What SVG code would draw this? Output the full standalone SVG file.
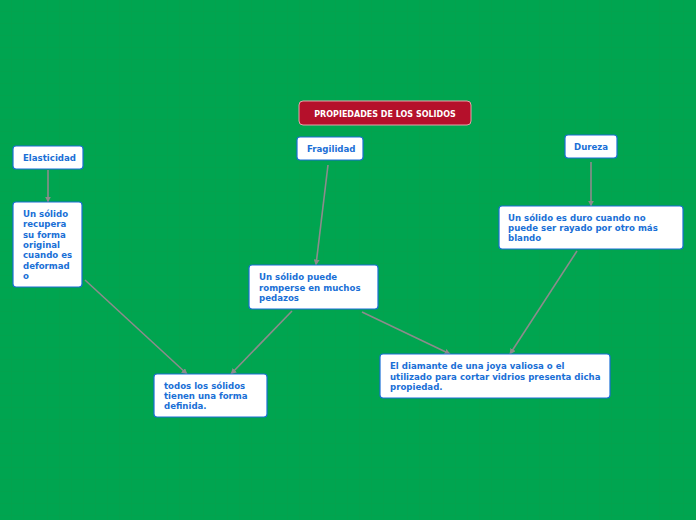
<svg xmlns="http://www.w3.org/2000/svg" width="696" height="520" viewBox="0 0 696 520">
<defs>
<style>
.n{fill:#fff;stroke:#1a6fd6;stroke-width:1.2}
.t{font-family:"DejaVu Sans",Verdana,sans-serif;font-weight:bold;font-size:8.6px;fill:#1a6fd6}
.c{stroke:#8c8c8c;stroke-width:1.6;fill:none;marker-end:url(#a)}
</style>
<marker id="a" viewBox="0 0 10 10" refX="9" refY="5" markerWidth="6" markerHeight="6" markerUnits="userSpaceOnUse" orient="auto"><path d="M0,0L10,5L0,10z" fill="#8c8c8c"/></marker>
<pattern id="g" width="12" height="12" patternUnits="userSpaceOnUse"><path d="M12,0V12H0" fill="none" stroke="#0a9c48" stroke-width="0.6"/></pattern>
</defs>
<rect width="696" height="520" fill="#00a550"/>
<rect width="696" height="520" fill="url(#g)"/>
<g id="connectors">
<line class="c" x1="48" y1="170" x2="48" y2="202"/>
<line class="c" x1="328" y1="165" x2="316" y2="265"/>
<line class="c" x1="591" y1="162" x2="591" y2="206"/>
<line class="c" x1="85" y1="280" x2="187" y2="374"/>
<line class="c" x1="292" y1="311" x2="231" y2="374"/>
<line class="c" x1="362" y1="312" x2="450" y2="354"/>
<line class="c" x1="577" y1="251" x2="510" y2="354"/>
</g>
<g id="title"><rect x="299" y="101" width="172" height="24" rx="4" fill="#b5102b" stroke="#e8a0aa" stroke-width="1"/><text x="385" y="117" text-anchor="middle" font-family="DejaVu Sans,sans-serif" font-weight="bold" font-size="8px" fill="#fff">PROPIEDADES DE LOS SOLIDOS</text></g>
<g id="elasticidad"><rect class="n" x="13" y="146" width="70" height="23" rx="3"/><text class="t" x="23" y="161">Elasticidad</text></g>
<g id="fragilidad"><rect class="n" x="297" y="137" width="66" height="23" rx="3"/><text class="t" x="307" y="152">Fragilidad</text></g>
<g id="dureza"><rect class="n" x="565" y="135" width="52" height="23" rx="3"/><text class="t" x="574" y="150">Dureza</text></g>
<g id="elastic-def"><rect class="n" x="13" y="202" width="69" height="85" rx="3"/><text class="t"><tspan x="23" y="217">Un sólido</tspan><tspan x="23" y="227.3">recupera</tspan><tspan x="23" y="237.6">su forma</tspan><tspan x="23" y="247.9">original</tspan><tspan x="23" y="258.2">cuando es</tspan><tspan x="23" y="268.5">deformad</tspan><tspan x="23" y="278.8">o</tspan></text></g>
<g id="frag-def"><rect class="n" x="249" y="265" width="129" height="44" rx="3"/><text class="t"><tspan x="259" y="280">Un sólido puede</tspan><tspan x="259" y="291">romperse en muchos</tspan><tspan x="259" y="301">pedazos</tspan></text></g>
<g id="dureza-def"><rect class="n" x="499" y="206" width="184" height="43" rx="3"/><text class="t"><tspan x="508" y="221">Un sólido es duro cuando no</tspan><tspan x="508" y="231">puede ser rayado por otro más</tspan><tspan x="508" y="241">blando</tspan></text></g>
<g id="todos"><rect class="n" x="154" y="374" width="113" height="43" rx="3"/><text class="t"><tspan x="164" y="389">todos los sólidos</tspan><tspan x="164" y="399">tienen una forma</tspan><tspan x="164" y="409">definida.</tspan></text></g>
<g id="diamante"><rect class="n" x="380" y="354" width="230" height="44" rx="3"/><text class="t"><tspan x="390" y="369">El diamante de una joya valiosa o el</tspan><tspan x="390" y="380">utilizado para cortar vidrios presenta dicha</tspan><tspan x="390" y="390">propiedad.</tspan></text></g>
</svg>
